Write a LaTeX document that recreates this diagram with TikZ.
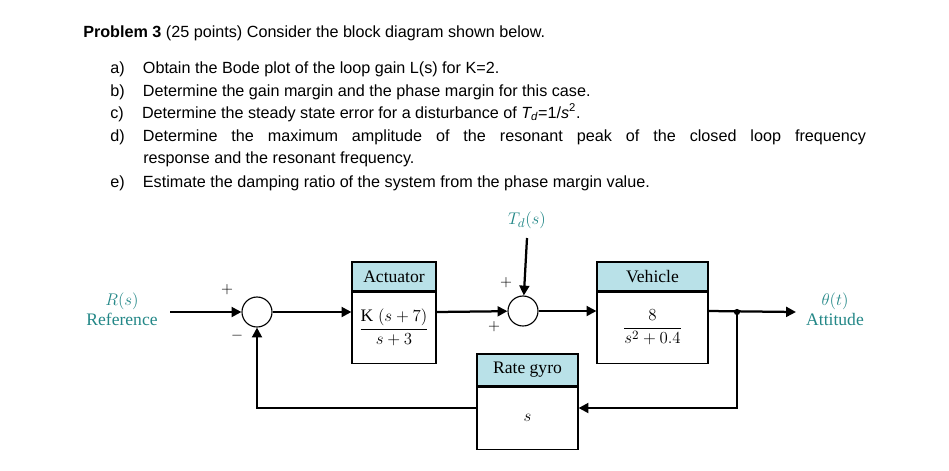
\documentclass[tikz,border=0pt]{standalone}
\usepackage{amsmath}
\usepackage{fontspec}
\setmainfont{Liberation Serif}
\newfontfamily\arialf{Liberation Sans}
\usetikzlibrary{arrows.meta}
\definecolor{tealtxt}{RGB}{35,135,135}
\definecolor{headfill}{RGB}{185,225,232}

\tikzset{
  qtext/.style={anchor=base west,font=\arialf\fontsize{11.5}{14}\selectfont,inner sep=0},
  blk/.style={draw,thick,fill=white,inner sep=0},
  head/.style={draw,thick,fill=headfill,inner sep=0,font=\fontsize{12.5}{14}\selectfont},
  sumc/.style={draw,thick,circle,minimum size=30*0.025cm,inner sep=0},
  sig/.style={line width=1.6pt,-{Triangle[length=7pt,width=7pt]}},
  wire/.style={line width=1.6pt},
  lbl/.style={text=tealtxt,font=\fontsize{12.5}{14}\selectfont,align=center,inner sep=0},
  sgn/.style={font=\fontsize{11}{12}\selectfont,inner sep=0}
}

\begin{document}
\begin{tikzpicture}[x=0.025cm,y=-0.025cm]
    \useasboundingbox (0,0) rectangle (949,470);

    % problem text
    \node[qtext] (title) at (83,37) {\textbf{Problem 3} (25 points) Consider the block diagram shown below.};
    \node[qtext] (qa) at (110,73) {a)\hspace{13pt}Obtain the Bode plot of the loop gain L(s) for K=2.};
    \node[qtext] (qb) at (110,96) {b)\hspace{13pt}Determine the gain margin and the phase margin for this case.};
    \node[qtext] (qc) at (110,118) {c)\hspace{13pt}Determine the steady state error for a disturbance of \textit{T\textsubscript{d}}=1/\textit{s}\textsuperscript{2}.};
    \node[qtext] (qd) at (110,141) {d)\hspace{13pt}\makebox[18.075cm][s]{Determine the maximum amplitude of the resonant peak of the closed loop frequency}};
    \node[qtext] (qd2) at (143,163) {response and the resonant frequency.};
    \node[qtext] (qe) at (110,187) {e)\hspace{13pt}Estimate the damping ratio of the system from the phase margin value.};

    % blocks
    \node[sumc] (sum1) at (257,312) {};
    \node[sumc] (sum2) at (523,311) {};

    \node[head,minimum width=84*0.025cm,minimum height=29*0.025cm] (acth) at (394,276.5) {Actuator};
    \node[blk,minimum width=84*0.025cm,minimum height=71*0.025cm,anchor=north] (act) at (acth.south)
        {\fontsize{12.5}{14}\selectfont$\dfrac{\mathrm{K}\;(s+7)}{s+3}$};
    \node[head,minimum width=111*0.025cm,minimum height=29*0.025cm] (vehh) at (652.5,276.5) {Vehicle};
    \node[blk,minimum width=111*0.025cm,minimum height=71*0.025cm,anchor=north] (veh) at (vehh.south)
        {\fontsize{12.5}{14}\selectfont$\dfrac{8}{s^2+0.4}$};
    \node[head,minimum width=101*0.025cm,minimum height=32*0.025cm] (gyroh) at (527.5,370) {Rate gyro};
    \node[blk,minimum width=101*0.025cm,minimum height=62*0.025cm,anchor=north] (gyro) at (gyroh.south)
        {\fontsize{12.5}{14}\selectfont$s$};

    % labels
    \node[lbl] (ref) at (122,309) {$R(s)$\\Reference};
    \node[lbl] (att) at (835,309) {$\theta(t)$\\Attitude};
    \node[lbl] (td) at (527,220) {$T_d(s)$};
    \coordinate (tdtop) at (527,238);
    \coordinate (rin) at (170,312);
    \coordinate (yout) at (796,312);
    \coordinate (br) at (737,312);
    \node[sgn] at (227,290) {$+$};
    \node[sgn] at (237,336) {$-$};
    \node[sgn] at (506,283) {$+$};
    \node[sgn] at (494,327) {$+$};

    % signals
    \draw[sig] (rin) -- (sum1);
    \draw[sig] (sum1) -- (sum1 -| act.west);
    \draw[sig] (sum1 -| act.east) -- (sum2);
    \draw[sig] (tdtop) -- (sum2);
    \draw[sig] (sum2) -- (sum2 -| veh.west);
    \draw[sig] (sum2 -| veh.east) -- (yout);
    \fill (br) circle (2.2pt);
    \draw[sig] (br) |- (gyro.east |- 0,408);
    \draw[sig] (gyro.west |- 0,408) -| (sum1);
\end{tikzpicture}
\end{document}
